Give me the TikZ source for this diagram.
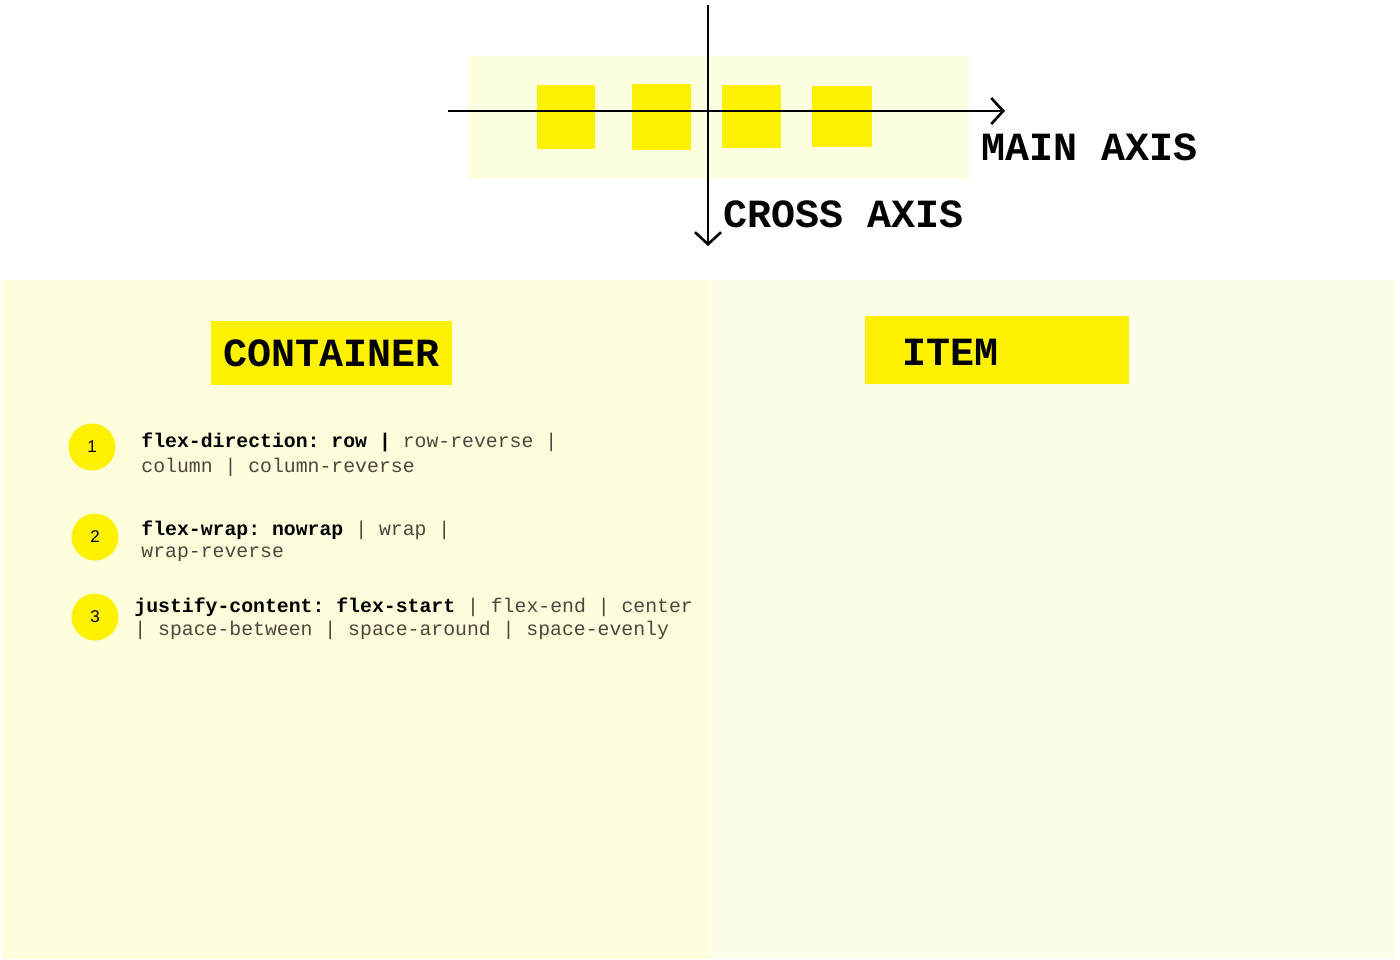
\documentclass[tikz,border=0pt]{standalone}
\usepackage{fontspec}
\setmainfont{Liberation Sans}
\setmonofont{Liberation Mono}
\usetikzlibrary{arrows.meta}

\definecolor{flexyellow}{RGB}{255,242,0}
\definecolor{paletop}{RGB}{254,254,224}
\definecolor{paleleft}{RGB}{254,254,221}
\definecolor{paleright}{RGB}{252,254,233}
\definecolor{valuegray}{RGB}{78,70,62}

\tikzset{
  axis/.style={line width=1.3pt,black},
  biglabel/.style={anchor=base west,inner sep=0pt,font=\ttfamily\bfseries\fontsize{20}{24}\selectfont},
  heading/.style={fill=flexyellow,inner sep=0pt,font=\ttfamily\bfseries\fontsize{20}{24}\selectfont},
  numdot/.style={circle,fill=flexyellow,minimum size=23.5pt,inner sep=0pt,font=\fontsize{8.5}{10}\selectfont},
  proptext/.style={anchor=base west,inner sep=0pt,text=valuegray,font=\ttfamily\fontsize{9.9}{11.5}\selectfont}
}
\newcommand{\keyw}[1]{\textcolor{black}{\textbf{#1}}}

\begin{document}
\begin{tikzpicture}[x=0.5pt,y=-0.5pt,>={Straight Barb[length=6pt,width=13pt]}]
  \useasboundingbox (0,0) rectangle (1400,959);
  % backgrounds
  \fill[paletop] (468,56) rectangle (969,179);
  \fill[paleleft] (2,280) rectangle (708,959);
  \fill[paleright] (708,280) rectangle (1395,959);
  % flex items
  \fill[flexyellow] (537,85) rectangle (595,149);
  \fill[flexyellow] (632,84) rectangle (691,150);
  \fill[flexyellow] (722,85) rectangle (781,148);
  \fill[flexyellow] (812,86) rectangle (872,147);
  % axes
  \coordinate (mainstart) at (448,111);
  \coordinate (mainend) at (1005,111);
  \coordinate (crossstart) at (708,5);
  \coordinate (crossend) at (708,246);
  \draw[axis,->] (mainstart)--(mainend);
  \draw[axis,->] (crossstart)--(crossend);
  \node[biglabel] (mainlabel) at (981,160) {MAIN AXIS};
  \node[biglabel] (crosslabel) at (723,227) {CROSS AXIS};
  % headings
  \node[heading,minimum width=120.5pt,minimum height=32pt] (container) at (331.5,353) {CONTAINER};
  \node[heading,anchor=west,align=left,text width=95pt,inner xsep=18.5pt,minimum height=34pt,
        text height=15.5pt,text depth=0pt] (item) at (865,350) {ITEM};
  % container properties
  \node[numdot] (n1) at (92,447) {1};
  \node[numdot] (n2) at (95,537) {2};
  \node[numdot] (n3) at (95,617) {3};
  \node[proptext] (dir1) at (141,447) {\keyw{flex-direction: row |} row-reverse |};
  \node[proptext] (dir2) at (141,472) {column | column-reverse};
  \node[proptext] (wrap1) at (141,535) {\keyw{flex-wrap: nowrap} | wrap |};
  \node[proptext] (wrap2) at (141,557) {wrap-reverse};
  \node[proptext] (just1) at (134,612) {\keyw{justify-content: flex-start} | flex-end | center};
  \node[proptext] (just2) at (134,635) {| space-between | space-around | space-evenly};
\end{tikzpicture}
\end{document}
